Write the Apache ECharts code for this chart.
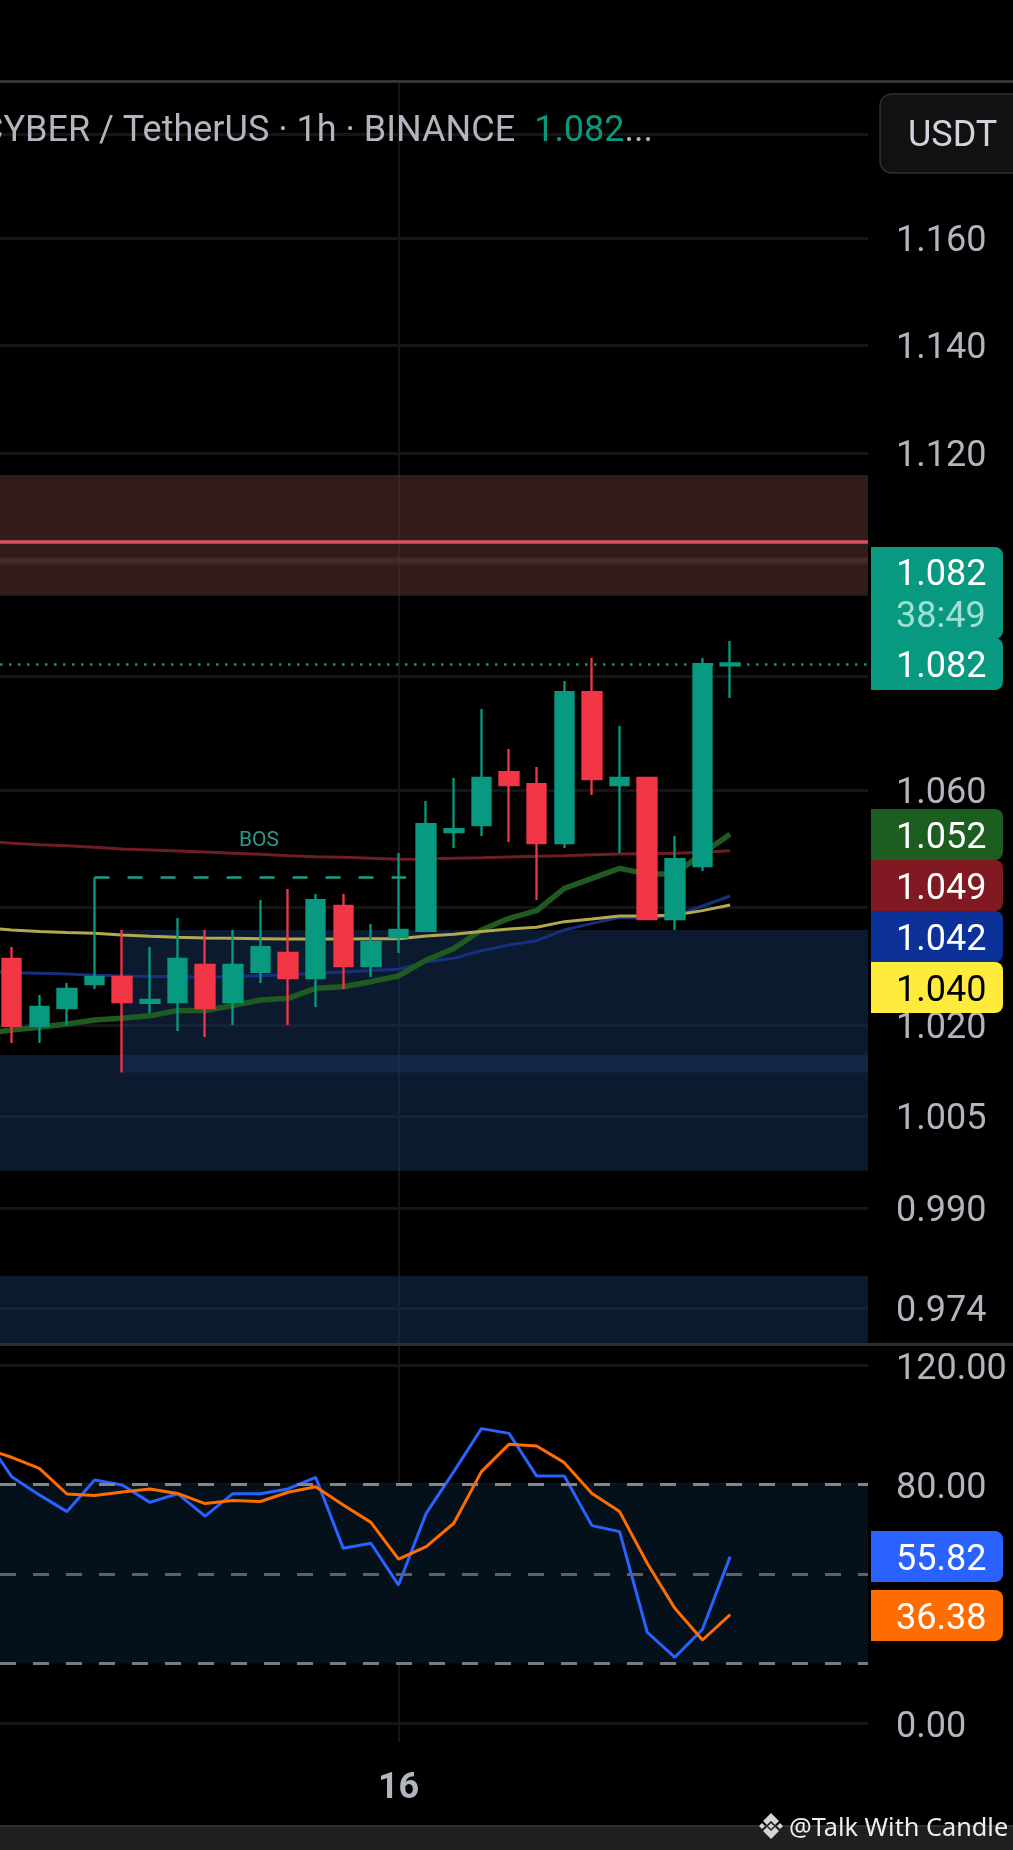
<!DOCTYPE html>
<html>
<head>
<meta charset="utf-8">
<title>CYBER / TetherUS</title>
<script src="https://cdn.jsdelivr.net/npm/echarts@6/dist/echarts.min.js"></script>
<style>
  html, body { margin: 0; padding: 0; background: #000; }
  #chart { width: 1013px; height: 1850px; }
</style>
</head>
<body>
<div id="chart"></div>
<script>
// candles, oldest first
const opens  = [1.03119,1.01996,1.02295,1.02698,1.02816,1.02380,1.02396,1.03017,1.02396,1.02900,1.03220,1.02799,1.04016,1.03000,1.03490,1.03592,1.05280,1.05402,1.06318,1.06109,1.05092,1.07717,1.06092,1.06214,1.03795,1.04697,1.08187];
const closes = [1.01996,1.02313,1.02614,1.02816,1.02396,1.02430,1.03119,1.02295,1.03017,1.03320,1.02799,1.04117,1.03000,1.03405,1.03609,1.05418,1.05332,1.06214,1.06092,1.05092,1.07717,1.06196,1.06214,1.03795,1.04817,1.08211,1.08223];
const lows   = [1.01712,1.01712,1.02013,1.02614,1.01222,1.02207,1.01912,1.01813,1.02013,1.02715,1.02013,1.02313,1.02614,1.02816,1.03220,1.03592,1.05006,1.05212,1.05110,1.04117,1.05006,1.05919,1.04920,1.03795,1.03609,1.04612,1.07611];
const highs  = [1.03320,1.02514,1.02715,1.04503,1.03609,1.03320,1.03812,1.03609,1.03609,1.04117,1.04305,1.04219,1.04219,1.03710,1.04920,1.05816,1.06214,1.07418,1.06718,1.06405,1.07910,1.08317,1.07120,1.06214,1.05212,1.08317,1.08618];

// moving averages start one bar before the first candle
const maGreen  = [1.01873,1.01929,1.01974,1.02030,1.02097,1.02125,1.02165,1.02254,1.02254,1.02335,1.02430,1.02458,1.02625,1.02653,1.02737,1.02833,1.03100,1.03297,1.03609,1.03806,1.03937,1.04316,1.04486,1.04658,1.04560,1.04560,1.04915,1.05241];
const maMaroon = [1.05132,1.05086,1.05063,1.05046,1.05017,1.04989,1.04972,1.04955,1.04937,1.04915,1.04897,1.04875,1.04857,1.04846,1.04829,1.04812,1.04817,1.04829,1.04840,1.04852,1.04863,1.04875,1.04892,1.04903,1.04909,1.04915,1.04932,1.04960];
const maBlue   = [1.02900,1.02889,1.02878,1.02866,1.02844,1.02833,1.02822,1.02822,1.02811,1.02822,1.02838,1.02855,1.02878,1.02900,1.02923,1.02945,1.03074,1.03130,1.03259,1.03354,1.03428,1.03609,1.03721,1.03818,1.03806,1.03846,1.04016,1.04186];
const maYellow = [1.03643,1.03609,1.03581,1.03564,1.03553,1.03524,1.03502,1.03485,1.03473,1.03468,1.03462,1.03456,1.03456,1.03456,1.03462,1.03462,1.03507,1.03536,1.03581,1.03626,1.03654,1.03750,1.03795,1.03846,1.03846,1.03863,1.03937,1.04033];

// stochastic rsi, same start as the averages
const stochK = [96.0,82.6,76.5,70.9,81.5,79.8,74.0,76.9,69.4,76.9,76.9,78.5,82.4,58.6,60.3,46.3,70.3,84.3,98.7,97.1,82.8,82.8,66.2,64.2,30.5,22.1,31.5,55.82];
const stochD = [92.1,89.1,85.4,76.8,76.3,77.5,78.5,77.0,73.6,74.6,74.3,77.4,79.2,73.1,67.3,55.0,59.2,67.0,84.3,93.5,92.9,87.3,77.0,70.9,53.6,38.5,27.9,36.38];

// ticks
const priceGrid   = [1.18,1.16,1.14,1.12,1.10,1.08,1.06,1.04,1.02,1.005,0.99,0.974];
const priceLabels = [1.16,1.14,1.12,1.06,1.02,1.005,0.99,0.974];
const stochGrid   = [0,40,80,120];
const stochLabels = [0,80,120];
const dayBar = 14;
const dayLabel = '16';

const lastPrice = 1.082;
const resistLine = 1.10404;

// price zones: [fromBar, toBar, top, bottom]
const xMin = -0.4235, xMax = 30.99;
const yMin = 0.9683, yMax = 1.1901;
const blueZones = [
  [4, xMax, 1.03609, 1.01222],
  [xMin, xMax, 1.01513, 0.99612],
  [xMin, xMax, 0.97915, yMin]
];
const redZones = [
  [xMin, xMax, 1.11605, 1.09425],
  [xMin, xMax, 1.10113, 1.10027]
];

// price tags on the right: [text, colour, text colour, top, height]
const tags = [
  ['1.052', '#1b5e20', '#ffffff', 809, 51],
  ['1.049', '#801922', '#ffffff', 860, 51],
  ['1.042', '#0c3299', '#ffffff', 911, 51],
  ['1.040', '#ffeb3b', '#000000', 962, 51],
  ['55.82', '#2962ff', '#ffffff', 1531, 51],
  ['36.38', '#ff6d00', '#ffffff', 1590, 51]
];

const grey = '#b2b5be';
const gridCol = '#151515';
const fontFam = 'Roboto';
const tagFont = '36px ' + fontFam;

const toLine = (arr) => arr.map((v, i) => [i - 1, v]);
const zoneArea = (z, col) => [
  { coord: [z[0], z[2]], itemStyle: { color: col } },
  { coord: [z[1], z[3]] }
];

function tagGraphic(t) {
  return [
    { type: 'rect', z: 50, shape: { x: 871, y: t[3], width: 132, height: t[4], r: [0, 8, 8, 0] }, style: { fill: t[1] } },
    { type: 'text', z: 51, style: { x: 896, y: t[3] + t[4] / 2 + 4, text: t[0], fill: t[2], font: tagFont, verticalAlign: 'middle' } }
  ];
}

const myChart = echarts.init(document.getElementById('chart'));
const option = {
  animation: false,
  backgroundColor: '#000',
  title: {
    text: '{a|CYBER / TetherUS · 1h · BINANCE}{s| }{g|1.082}{a|...}',
    left: -20,
    top: 114,
    padding: 0,
    textStyle: {
      rich: {
        a: { color: grey, fontSize: 36, fontWeight: 'normal', fontFamily: fontFam },
        g: { color: '#089981', fontSize: 36, fontWeight: 'normal', fontFamily: fontFam },
        s: { width: 19, fontSize: 36 }
      }
    }
  },
  grid: [
    { left: 0, right: 145, top: 82, height: 1262 },
    { left: 0, right: 145, top: 1345, height: 397 }
  ],
  xAxis: [
    {
      type: 'value', gridIndex: 0, min: xMin, max: xMax,
      axisLine: { show: false },
      axisTick: { show: false, customValues: [dayBar] },
      axisLabel: { show: false },
      splitLine: { show: true, lineStyle: { color: gridCol, width: 2 } }
    },
    {
      type: 'value', gridIndex: 1, min: xMin, max: xMax,
      axisLine: { show: false },
      axisTick: { show: false, customValues: [dayBar] },
      axisLabel: {
        customValues: [dayBar],
        formatter: () => dayLabel,
        color: grey, fontSize: 36, fontWeight: 'bold', fontFamily: fontFam, margin: 29
      },
      splitLine: { show: true, lineStyle: { color: gridCol, width: 2 } }
    }
  ],
  yAxis: [
    {
      type: 'log', gridIndex: 0, position: 'right', min: yMin, max: yMax,
      axisLine: { show: false },
      axisTick: { show: false, customValues: priceGrid },
      axisLabel: {
        customValues: priceLabels,
        formatter: (v) => '{t|' + Number(v).toFixed(3) + '}',
        margin: 28, align: 'left',
        rich: { t: { color: grey, fontSize: 36, fontFamily: fontFam, padding: [7, 0, 0, 0] } }
      },
      splitLine: { show: true, lineStyle: { color: gridCol, width: 3 } }
    },
    {
      type: 'value', gridIndex: 1, position: 'right', min: -6.26, max: 126.7,
      axisLine: { show: false },
      axisTick: { show: false, customValues: stochGrid },
      axisLabel: {
        customValues: stochLabels,
        formatter: (v) => '{t|' + Number(v).toFixed(2) + '}',
        margin: 28, align: 'left',
        rich: { t: { color: grey, fontSize: 36, fontFamily: fontFam, padding: [9, 0, 0, 0] } }
      },
      splitLine: { show: true, lineStyle: { color: gridCol, width: 3 } }
    }
  ],
  series: [
    {
      // zones and horizontal levels
      type: 'line', xAxisIndex: 0, yAxisIndex: 0, data: [], z: 1, silent: true,
      markArea: {
        silent: true,
        data: blueZones.map((z) => zoneArea(z, 'rgba(24,52,94,0.5)'))
          .concat(redZones.map((z) => zoneArea(z, 'rgba(98,54,54,0.5)')))
      },
      markLine: {
        silent: true, symbol: 'none', precision: 5, label: { show: false },
        data: [
          { yAxis: resistLine, lineStyle: { color: '#d9525f', width: 3.5, type: 'solid' } },
          { yAxis: lastPrice, lineStyle: { color: '#089981', width: 2.5, type: [2.5, 6.5] } }
        ]
      }
    },
    { type: 'line', xAxisIndex: 0, yAxisIndex: 0, data: toLine(maMaroon), z: 2, symbol: 'none', lineStyle: { color: '#6e1d24', width: 3 } },
    { type: 'line', xAxisIndex: 0, yAxisIndex: 0, data: toLine(maBlue), z: 2, symbol: 'none', lineStyle: { color: '#14307f', width: 3 } },
    { type: 'line', xAxisIndex: 0, yAxisIndex: 0, data: toLine(maGreen), z: 2, symbol: 'none', lineStyle: { color: '#1f5a20', width: 5.5 } },
    { type: 'line', xAxisIndex: 0, yAxisIndex: 0, data: toLine(maYellow), z: 2, symbol: 'none', lineStyle: { color: '#b3a84e', width: 3 } },
    {
      type: 'candlestick', xAxisIndex: 0, yAxisIndex: 0, z: 3, barWidth: 19,
      data: opens.map((o, i) => [i, o, closes[i], lows[i], highs[i]]),
      itemStyle: { color: '#089981', borderColor: '#089981', color0: '#f23645', borderColor0: '#f23645', borderWidth: 2.3 },
      markLine: {
        silent: true, symbol: 'none', label: { show: false },
        lineStyle: { color: '#1f9c86', width: 2.5, type: [15, 18] },
        data: [[{ coord: [3, highs[3]] }, { coord: [14.27, highs[3]] }]]
      },
      markPoint: {
        silent: true, symbol: 'circle', symbolSize: 0,
        label: { show: true, formatter: 'BOS', position: 'inside', color: '#2a9a8a', fontSize: 21, fontFamily: fontFam },
        data: [{ coord: [8.95, 1.0513] }]
      }
    },
    {
      type: 'line', xAxisIndex: 1, yAxisIndex: 1, data: [], z: 1, silent: true,
      markArea: {
        silent: true,
        itemStyle: { color: '#04101a' },
        data: [[{ yAxis: 80 }, { yAxis: 20 }]]
      },
      markLine: {
        silent: true, symbol: 'none', label: { show: false },
        data: [
          { yAxis: 80, lineStyle: { color: '#858585', width: 3, type: [16, 17] } },
          { yAxis: 50, lineStyle: { color: '#5d616b', width: 3, type: [16, 17] } },
          { yAxis: 20, lineStyle: { color: '#787b86', width: 3, type: [16, 17] } }
        ]
      }
    },
    { type: 'line', xAxisIndex: 1, yAxisIndex: 1, data: toLine(stochK), z: 2, symbol: 'none', lineStyle: { color: '#2962ff', width: 3 } },
    { type: 'line', xAxisIndex: 1, yAxisIndex: 1, data: toLine(stochD), z: 3, symbol: 'none', lineStyle: { color: '#ff6d00', width: 3 } }
  ],
  graphic: {
    elements: [
      // panel frame
      { type: 'rect', z: 40, shape: { x: 0, y: 80, width: 1013, height: 3 }, style: { fill: '#333333' } },
      { type: 'rect', z: 40, shape: { x: 0, y: 1343, width: 1013, height: 3 }, style: { fill: '#2e2e2e' } },
      { type: 'rect', z: 40, shape: { x: 0, y: 1825, width: 1013, height: 25 }, style: { fill: '#1f1f1f' } },
      { type: 'rect', z: 41, shape: { x: 0, y: 1825, width: 1013, height: 2 }, style: { fill: '#2e2e2e' } },
      // currency button
      { type: 'rect', z: 45, shape: { x: 880, y: 94, width: 150, height: 79, r: 12 }, style: { fill: '#111111', stroke: '#303030', lineWidth: 1.5 } },
      { type: 'text', z: 46, style: { x: 908, y: 137, text: 'USDT', fill: '#d1d4dc', font: tagFont, verticalAlign: 'middle' } },
      // last price tag with countdown
      { type: 'rect', z: 50, shape: { x: 871, y: 547, width: 132, height: 92, r: [0, 8, 8, 0] }, style: { fill: '#089981' } },
      { type: 'rect', z: 50, shape: { x: 871, y: 638, width: 132, height: 52, r: [0, 8, 8, 0] }, style: { fill: '#089981' } },
      { type: 'text', z: 51, style: { x: 896, y: 576, text: '1.082', fill: '#ffffff', font: tagFont, verticalAlign: 'middle' } },
      { type: 'text', z: 51, style: { x: 896, y: 618, text: '38:49', fill: '#9fe0d2', font: tagFont, verticalAlign: 'middle' } },
      { type: 'text', z: 51, style: { x: 896, y: 668, text: '1.082', fill: '#ffffff', font: tagFont, verticalAlign: 'middle' } }
    ].concat(tags.flatMap(tagGraphic)).concat([
      // watermark
      { type: 'polygon', z: 60, shape: { points: [[771, 1813], [779, 1821], [775, 1825], [771, 1821], [767, 1825], [763, 1821]] }, style: { fill: '#d4d4d4' } },
      { type: 'polygon', z: 60, shape: { points: [[771, 1839], [779, 1831], [775, 1827], [771, 1831], [767, 1827], [763, 1831]] }, style: { fill: '#d4d4d4' } },
      { type: 'polygon', z: 60, shape: { points: [[771, 1823], [774, 1826], [771, 1829], [768, 1826]] }, style: { fill: '#d4d4d4' } },
      { type: 'polygon', z: 60, shape: { points: [[762, 1823], [765, 1826], [762, 1829], [759, 1826]] }, style: { fill: '#d4d4d4' } },
      { type: 'polygon', z: 60, shape: { points: [[780, 1823], [783, 1826], [780, 1829], [777, 1826]] }, style: { fill: '#d4d4d4' } },
      { type: 'text', z: 60, style: { x: 789, y: 1829, text: '@Talk With Candle', fill: '#eeeeee', font: '25.3px "Noto Sans"', verticalAlign: 'middle' } }
    ])
  }
};
option && myChart.setOption(option);
</script>
</body>
</html>
